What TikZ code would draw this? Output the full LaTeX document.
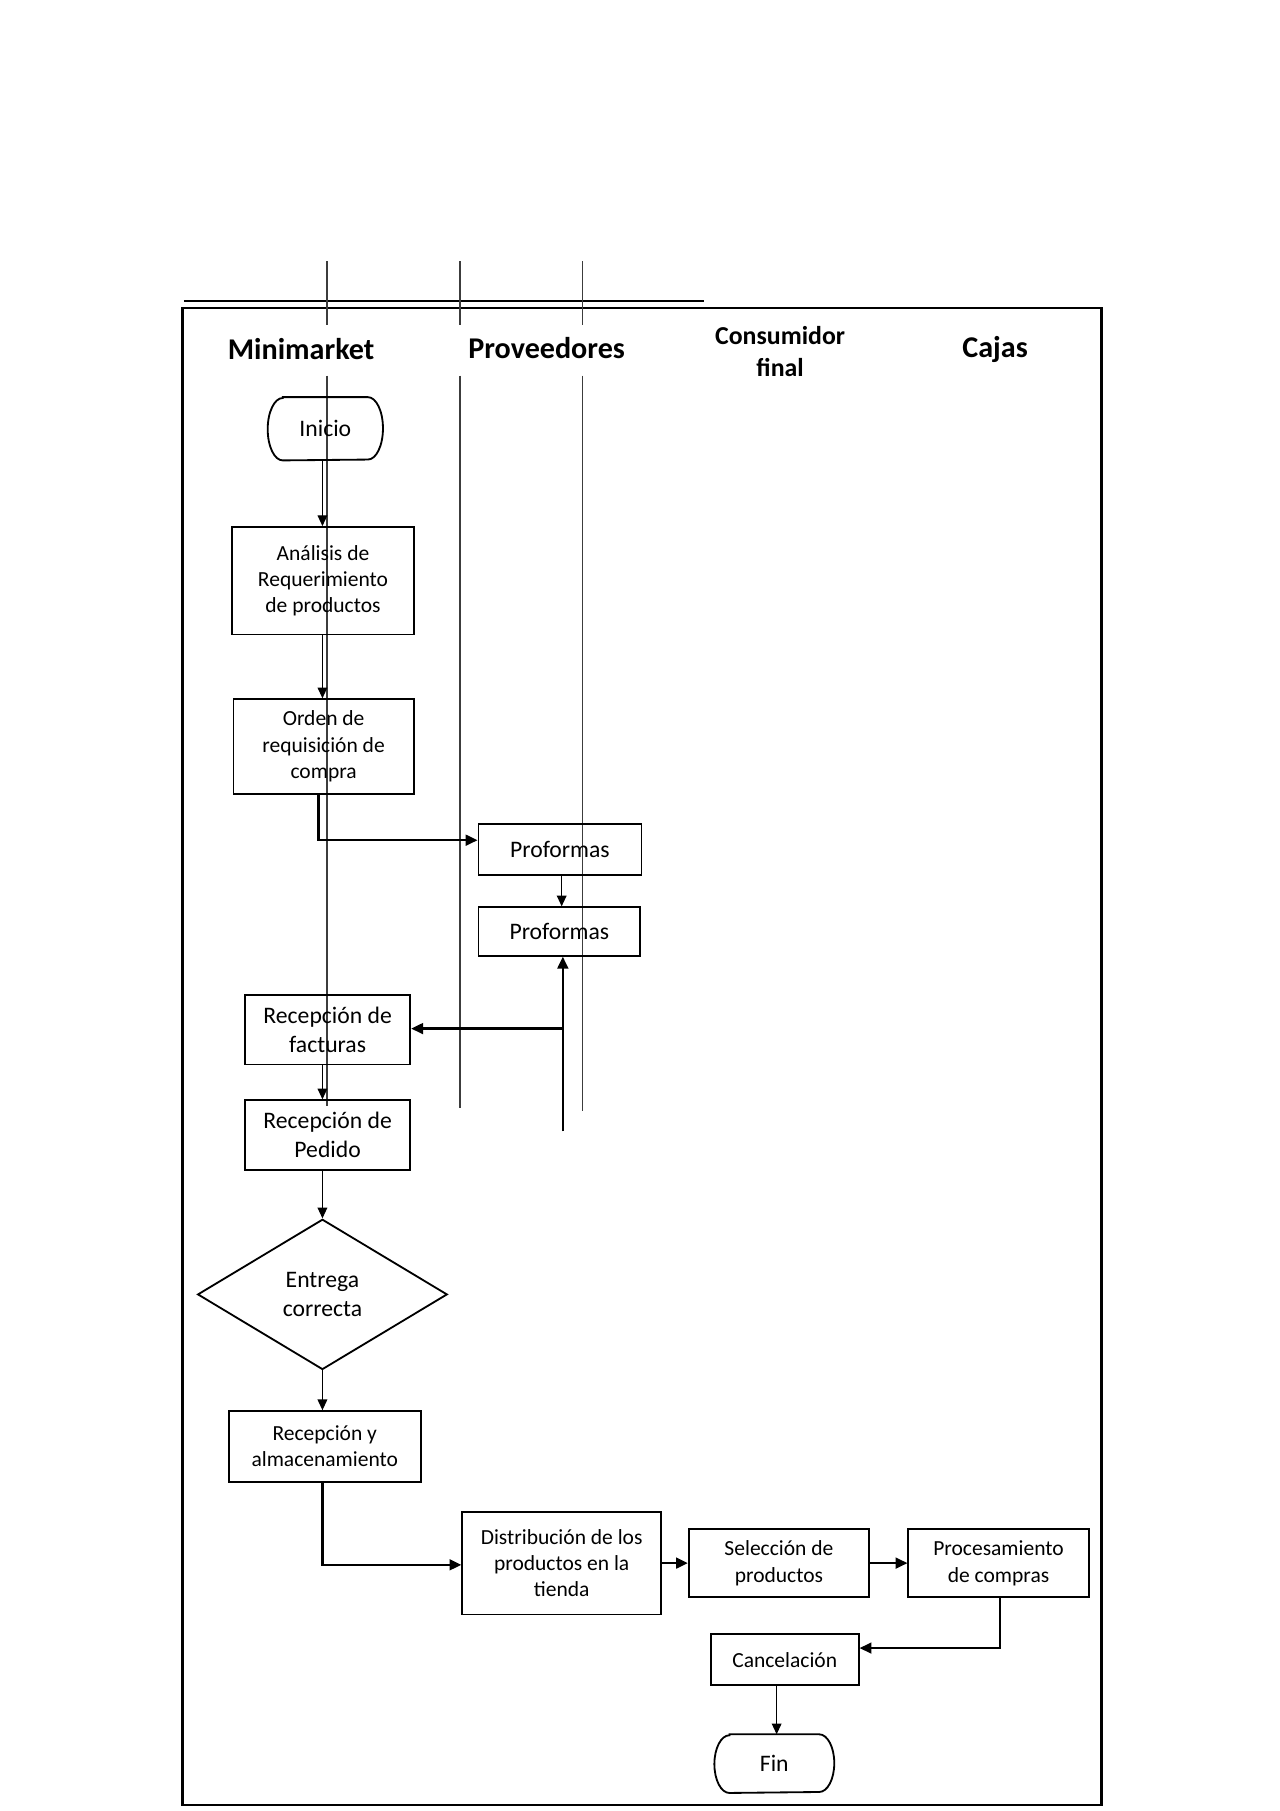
\documentclass[tikz,border=0pt]{standalone}
\usepackage{fontspec}
\setmainfont{Carlito}
\usepackage{xcolor}
\usepackage{tikz}
\usetikzlibrary{shapes.geometric, arrows.meta, positioning}
\definecolor{lanegray}{RGB}{60, 60, 60}
\definecolor{inkdark}{RGB}{0, 0, 0}
\newcommand{\pxu}{0.537pt}
\newcommand{\termoutline}[2]{%
    \draw[line width=0.85pt, inkdark]
        ([xshift=7pt]#1.north west) -- ([xshift=-7pt]#1.north east)
        arc[start angle=90, end angle=-90, x radius=7pt, y radius=#2]
        -- ([xshift=7pt]#1.south west)
        arc[start angle=270, end angle=90, x radius=7pt, y radius=#2] -- cycle;}
\tikzset{
    sz/.style 2 args={minimum width=#1*\pxu, minimum height=#2*\pxu},
    lane/.style={draw=lanegray, line width=0.7pt},
    lanehead/.style={font=\bfseries\fontsize{14}{16}\selectfont, align=center, inner sep=0pt},
    procbox/.style={draw=inkdark, line width=0.85pt, inner sep=0pt, align=center,
        font=\fontsize{10}{12.3}\selectfont},
    bigtext/.style={font=\fontsize{11}{13.4}\selectfont},
    termnode/.style={inner sep=0pt, align=center, font=\fontsize{11}{13.4}\selectfont},
    decision/.style={diamond, draw=inkdark, line width=0.85pt, inner sep=0pt, align=center,
        font=\fontsize{11}{13.4}\selectfont},
    flow/.style={draw=inkdark, line width=0.6pt, -{Triangle[length=5pt, width=4.5pt]}},
    flowthick/.style={draw=inkdark, line width=1.05pt, -{Triangle[length=5.5pt, width=5pt]}}
}

\begin{document}
\begin{tikzpicture}[x=\pxu, y=-\pxu]
    \useasboundingbox (0,0) rectangle (1107.5,1567);

    \draw[line width=1.1pt] (158,266.5) rectangle (953,1562);
    \draw[line width=0.9pt] (159,260.5) -- (609,260.5);
    \foreach \lx/\lb in {283/957, 398/959, 504/961} {
        \draw[lane] (\lx,226) -- (\lx,281);
        \draw[lane] (\lx,325) -- (\lx,\lb);
    }

    \node[lanehead] (hmini) at (260.5,302) {Minimarket};
    \node[lanehead] (hprov) at (473,301) {Proveedores};
    \node[lanehead, font=\bfseries\fontsize{12}{15}\selectfont] (hcons) at (675,304) {Consumidor\\final};
    \node[lanehead] (hcajas) at (861,302) {Cajas};

    \node[termnode, sz={99}{54}] (inicio) at (281.5,371) {Inicio};
    \termoutline{inicio}{14.5pt}
    \node[procbox, sz={157}{93}] (analisis) at (279.5,502.5) {Análisis de\\Requerimiento\\de productos};
    \node[procbox, sz={156}{82}] (orden) at (280,646) {Orden de\\requisición de\\compra};
    \node[procbox, bigtext, sz={141}{44}] (prof1) at (484.5,735) {Proformas};
    \node[procbox, bigtext, sz={140}{42}] (prof2) at (484,806) {Proformas};
    \node[procbox, bigtext, sz={143}{60}] (factura) at (283.5,891) {Recepción de\\facturas};
    \node[procbox, bigtext, sz={143}{60}] (pedido) at (283.5,982) {Recepción de\\Pedido};
    \node[decision, sz={216}{130}] (entrega) at (279,1120) {Entrega\\correcta};
    \node[procbox, sz={166}{61}] (almacen) at (281,1251.5) {Recepción y\\almacenamiento};
    \node[procbox, sz={172}{89}] (distrib) at (486,1352.5) {Distribución de los\\productos en la\\tienda};
    \node[procbox, sz={156}{59}] (seleccion) at (674,1352.5) {Selección de\\productos};
    \node[procbox, sz={156}{59}] (procesa) at (864,1352.5) {Procesamiento\\de compras};
    \node[procbox, sz={128}{44}] (cancela) at (679,1436) {Cancelación};
    \node[termnode, sz={103}{50}] (fin) at (670,1526) {Fin};
    \termoutline{fin}{13.4pt}

    \coordinate (colm) at (279,0);
    \coordinate (colp) at (486,0);
    \coordinate (colf) at (672,0);
    \coordinate (codo) at (275.5,727);
    \coordinate (pie) at (487,979);
    \coordinate (rama) at (487,890);
    \coordinate (bajada) at (279,1354);
    \coordinate (vuelta) at (865,1426);

    \draw[flow] (inicio.south -| colm) -- (analisis.north -| colm);
    \draw[flow] (analisis.south -| colm) -- (orden.north -| colm);
    \draw[flowthick] (orden.south -| codo) -- (codo) -- (codo -| prof1.west);
    \draw[flow] (prof1.south -| colp) -- (prof2.north -| colp);
    \draw[flowthick] (pie) -- (prof2.south -| pie);
    \draw[flowthick] (rama) -- (rama -| factura.east);
    \draw[flow] (factura.south -| colm) -- (pedido.north -| colm);
    \draw[flow] (pedido.south -| colm) -- (entrega.north -| colm);
    \draw[flow] (entrega.south -| colm) -- (almacen.north -| colm);
    \draw[flowthick] (almacen.south -| bajada) -- (bajada) -- (bajada -| distrib.west);
    \draw[flowthick] (distrib.east) -- (seleccion.west);
    \draw[flowthick] (seleccion.east) -- (procesa.west);
    \draw[flowthick] (procesa.south -| vuelta) -- (vuelta) -- (vuelta -| cancela.east);
    \draw[flow] (cancela.south -| colf) -- (fin.north -| colf);
\end{tikzpicture}
\end{document}
